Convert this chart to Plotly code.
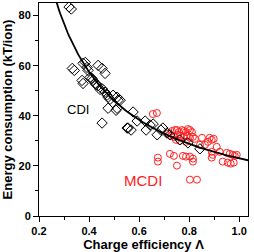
import plotly.graph_objects as go

# CDI data (charge efficiency, energy consumption kT/ion)
cdi_x = [0.320, 0.329, 0.333, 0.341, 0.372, 0.376, 0.376, 0.385, 0.392, 0.396,
         0.404, 0.412, 0.416, 0.424, 0.428, 0.436, 0.444, 0.436, 0.452, 0.464,
         0.452, 0.464, 0.472, 0.476, 0.484, 0.496, 0.512, 0.516, 0.512, 0.508,
         0.476, 0.452, 0.552, 0.524, 0.576, 0.592, 0.556, 0.568, 0.624, 0.628,
         0.644, 0.656, 0.672, 0.687, 0.695, 0.711, 0.723, 0.763, 0.795, 0.843]
cdi_y = [83.4, 82.6, 58.9, 58.1, 54.1, 52.9, 60.9, 61.3, 59.3, 58.1,
         55.3, 54.9, 54.1, 52.9, 52.5, 52.0, 50.5, 60.1, 58.9, 56.9,
         50.8, 49.4, 48.2, 47.4, 46.6, 48.2, 47.4, 46.2, 43.0, 42.2,
         43.0, 37.1, 35.1, 46.2, 41.5, 37.9, 35.1, 34.3, 37.9, 34.3,
         36.3, 36.7, 32.4, 34.3, 35.1, 33.1, 32.4, 30.4, 29.2, 26.8]

# MCDI data
mcdi_x = [0.655, 0.671,
          0.715, 0.731, 0.743, 0.751, 0.759, 0.771, 0.779, 0.787, 0.795, 0.803, 0.811,
          0.727, 0.739, 0.755, 0.767, 0.779, 0.791, 0.803, 0.815, 0.823, 0.747, 0.763, 0.787,
          0.851, 0.882, 0.898, 0.875, 0.890, 0.910, 0.922, 0.890, 0.950, 0.974, 0.990,
          0.962, 0.982, 0.863, 0.843, 0.894, 0.890,
          0.675, 0.675, 0.723, 0.739, 0.775, 0.787, 0.803, 0.815, 0.815, 0.751,
          0.934, 0.954, 0.966, 0.978, 0.803, 0.831]
mcdi_y = [40.7, 41.1,
          32.8, 33.9, 34.3, 34.3, 33.5, 34.3, 33.9, 33.5, 34.7, 34.3, 33.5,
          32.0, 31.6, 32.4, 32.0, 31.6, 32.0, 31.2, 31.6, 30.8, 30.4, 30.0, 29.6,
          31.2, 31.2, 30.8, 29.6, 30.4, 27.6, 25.6, 25.6, 25.2, 24.4, 24.4,
          24.8, 24.0, 28.4, 28.4, 24.4, 23.3,
          23.3, 21.7, 24.8, 24.0, 24.0, 23.7, 23.7, 22.9, 21.7, 20.1,
          21.7, 21.3, 20.9, 21.3, 14.5, 14.5]

# fit curve E = k / Lambda
fit_k = 23.0
fit_x = [0.25 + i * 0.005 for i in range(160)]
fit_y = [fit_k / v for v in fit_x]

x_ticks = [0.2, 0.4, 0.6, 0.8, 1.0]
x_labels = ["0.2", "0.4", "0.6", "0.8", "1.0"]
y_ticks = [0, 20, 40, 60, 80]

fig = go.Figure()
fig.add_trace(go.Scatter(x=mcdi_x, y=mcdi_y, mode="markers",
                         marker=dict(symbol="circle-open", size=7, color="#ff2020",
                                     line=dict(width=1, color="#ff2020")),
                         showlegend=False))
fig.add_trace(go.Scatter(x=cdi_x, y=cdi_y, mode="markers",
                         marker=dict(symbol="diamond-open", size=8, color="black",
                                     line=dict(width=1, color="black")),
                         showlegend=False))
fig.add_trace(go.Scatter(x=fit_x, y=fit_y, mode="lines",
                         line=dict(color="black", width=1.8), showlegend=False))

fig.add_annotation(x=0.357, y=42.5, text="CDI", showarrow=False,
                   font=dict(size=13, color="black", family="Liberation Sans, Arial"))
fig.add_annotation(x=0.616, y=14.3, text="MCDI", showarrow=False,
                   font=dict(size=15, color="#ff2020", family="Liberation Sans, Arial"))

axis_common = dict(showline=True, linecolor="black", linewidth=1, mirror=True,
                   ticks="outside", ticklen=5, tickwidth=1, tickcolor="black",
                   showgrid=False, zeroline=False,
                   tickfont=dict(size=11, color="black", family="Liberation Sans, Arial", weight="bold"))

fig.update_xaxes(range=[0.2, 1.035], tickvals=x_ticks, ticktext=x_labels,
                 minor=dict(ticks="outside", ticklen=3, dtick=0.1, tickcolor="black"),
                 title=dict(text="Charge efficiency Λ", standoff=4,
                            font=dict(size=13, color="black", family="Liberation Sans, Arial", weight="bold")),
                 **axis_common)
fig.update_yaxes(range=[0, 85], tickvals=y_ticks,
                 minor=dict(ticks="outside", ticklen=3, dtick=10, tickcolor="black"),
                 title=dict(text="Energy consumption (kT/ion)", standoff=2,
                            font=dict(size=13, color="black", family="Liberation Sans, Arial", weight="bold")),
                 **axis_common)

fig.update_layout(width=254, height=252, margin=dict(l=39, r=6, t=2, b=35),
                  plot_bgcolor="white", paper_bgcolor="white")

fig.write_html("out.html", config={"displayModeBar": False},
               post_script="document.body.style.margin='0';document.body.style.overflow='hidden';")
